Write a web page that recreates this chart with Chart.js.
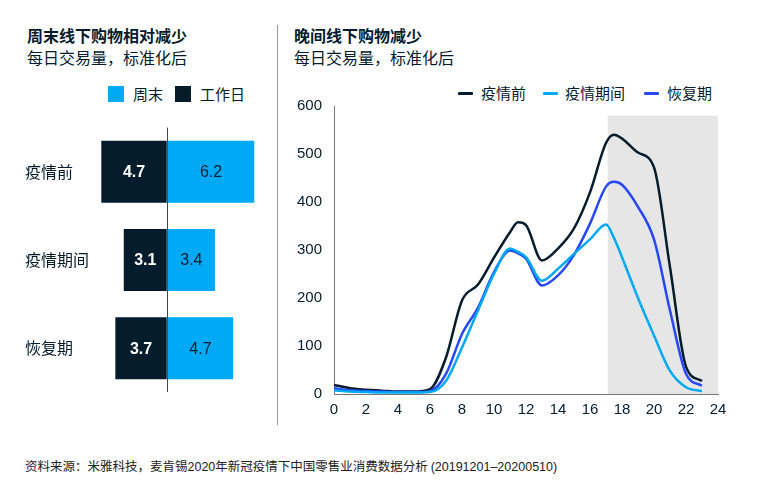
<!DOCTYPE html>
<html>
<head>
<meta charset="utf-8">
<script src="https://cdn.jsdelivr.net/npm/chart.js@4.4.0/dist/chart.umd.min.js"></script>
<style>
body { margin: 0; width: 759px; height: 492px; background: #fff; position: relative; overflow: hidden;
       font-family: "Noto Sans CJK SC", sans-serif; color: #051c2c; }
.t { position: absolute; white-space: nowrap; line-height: 20px; }
.title { font-size: 16px; font-weight: bold; }
.sub { font-size: 16px; }
.leg { position: absolute; font-size: 15px; line-height: 18px; white-space: nowrap; }
.sq { position: absolute; width: 16px; height: 16px; }
.ln { position: absolute; width: 15px; height: 3px; border-radius: 1px; }
#sep { position: absolute; left: 277px; top: 25px; width: 1px; height: 400px; background: #9a9a9a; }
#left { position: absolute; left: 0; top: 118px; }
#right { position: absolute; left: 280px; top: 85px; }
#foot { position: absolute; left: 25px; top: 456px; font-size: 12.5px; white-space: nowrap; color: #222; }
#foot span { font-family: "Liberation Sans", Arial, sans-serif; }
</style>
</head>
<body>

<div class="t title" style="left:27px;top:25px">周末线下购物相对减少</div>
<div class="t sub" style="left:27px;top:47px">每日交易量，标准化后</div>
<div class="t title" style="left:294px;top:25px">晚间线下购物减少</div>
<div class="t sub" style="left:294px;top:47px">每日交易量，标准化后</div>
<div id="sep"></div>
<div id="legLeft"></div>
<div id="legRight"></div>

<canvas id="left" width="276" height="284"></canvas>
<canvas id="right" width="470" height="348"></canvas>

<div id="foot">资料来源：米雅科技，麦肯锡<span>2020</span>年新冠疫情下中国零售业消费数据分析 <span>(20191201–20200510)</span></div>

<script>
// ----- データ -----
const periods = ['疫情前', '疫情期间', '恢复期'];
const weekendVals = [6.2, 3.4, 4.7];
const workdayVals = [4.7, 3.1, 3.7];

const hours = [0, 1, 2, 3, 4, 5, 6, 7, 8, 9, 10, 11, 11.5, 12, 13, 14, 15, 16, 17, 17.5, 18, 19, 20, 21, 22, 23];
const beforeVals   = [19, 12, 9, 7, 5, 5, 10, 76, 195, 228, 284, 337, 358, 352, 278, 303, 345, 420, 523, 540, 532, 503, 472, 264, 57, 27];
const duringVals   = [8, 5, 4, 3, 3, 3, 4, 27, 97, 174, 250, 303, 296, 285, 236, 261, 292, 322, 353, 325, 285, 200, 122, 48, 14, 6];
const recoveryVals = [12, 8, 6, 5, 4, 4, 6, 42, 125, 180, 254, 299, 293, 282, 226, 247, 290, 355, 432, 442, 436, 390, 322, 174, 42, 17];

const xTicks = [0, 2, 4, 6, 8, 10, 12, 14, 16, 18, 20, 22, 24];
const yTicks = [0, 100, 200, 300, 400, 500, 600];

const NAVY = '#051c2c';
const CYAN = '#00a9f4';
const BLUE = '#2848f5';
const numFont = '"Liberation Sans", Arial, sans-serif';
const cjkFont = '"Noto Sans CJK SC", sans-serif';

// 夜間の網掛け範囲
const shade = { from: 17.1, to: 24, top: 580 };

// ----- 凡例 (HTML) -----
const legLeft = document.getElementById('legLeft');
[['周末', CYAN, 108, 133], ['工作日', NAVY, 175, 200]].forEach(([name, color, sx, tx]) => {
    legLeft.insertAdjacentHTML('beforeend',
        `<div class="sq" style="left:${sx}px;top:86px;background:${color}"></div>` +
        `<div class="leg" style="left:${tx}px;top:85px">${name}</div>`);
});

const legRight = document.getElementById('legRight');
[['疫情前', NAVY, 458, 481], ['疫情期间', CYAN, 543, 565], ['恢复期', BLUE, 644, 667]].forEach(([name, color, sx, tx]) => {
    legRight.insertAdjacentHTML('beforeend',
        `<div class="ln" style="left:${sx}px;top:92px;background:${color}"></div>` +
        `<div class="leg" style="left:${tx}px;top:84px">${name}</div>`);
});

// ----- 棒グラフの数値ラベル -----
const barLabels = {
    id: 'barLabels',
    afterDatasetsDraw(chart) {
        const ctx = chart.ctx;
        chart.data.datasets.forEach((ds, i) => {
            chart.getDatasetMeta(i).data.forEach((bar, j) => {
                ctx.save();
                ctx.font = ds.labelWeight + ' 16px ' + numFont;
                ctx.fillStyle = ds.labelColor;
                ctx.textAlign = 'center';
                ctx.textBaseline = 'middle';
                ctx.fillText(Math.abs(ds.data[j]).toFixed(1), (bar.x + bar.base) / 2, bar.y + 1);
                ctx.restore();
            });
        });
    }
};

new Chart(document.getElementById('left'), {
    type: 'bar',
    data: {
        labels: periods,
        datasets: [
            { label: '工作日', data: workdayVals.map(v => -v), backgroundColor: NAVY, labelColor: '#fff', labelWeight: 'bold' },
            { label: '周末', data: weekendVals, backgroundColor: CYAN, labelColor: NAVY, labelWeight: 'normal' }
        ]
    },
    options: {
        indexAxis: 'y',
        responsive: false,
        animation: false,
        layout: { padding: { left: 25, top: 5, right: 0, bottom: 2 } },
        datasets: { bar: { barPercentage: 0.7, categoryPercentage: 1 } },
        plugins: { legend: { display: false }, tooltip: { enabled: false } },
        scales: {
            x: {
                stacked: true, min: -5.15, max: 7.75,
                ticks: { display: false, stepSize: 1 },
                grid: { drawTicks: false, color: c => c.tick && c.tick.value === 0 ? '#444' : 'transparent', lineWidth: 1 },
                border: { display: false }
            },
            y: {
                stacked: true,
                ticks: { crossAlign: 'far', padding: 0, color: NAVY, font: { size: 16, family: cjkFont } },
                grid: { display: false, drawTicks: false },
                border: { display: false },
                afterFit(s) { s.width = 70; }
            }
        }
    },
    plugins: [barLabels]
});

// ----- 折れ線グラフ -----
const shadePlugin = {
    id: 'shade',
    beforeDatasetsDraw(chart) {
        const { ctx, scales: { x, y } } = chart;
        ctx.save();
        ctx.fillStyle = '#e6e6e6';
        const x0 = x.getPixelForValue(shade.from), x1 = x.getPixelForValue(shade.to);
        const y0 = y.getPixelForValue(shade.top), y1 = y.getPixelForValue(0);
        ctx.fillRect(x0, y0, x1 - x0, y1 - y0);
        ctx.restore();
    }
};

const toPoints = vals => hours.map((h, i) => ({ x: h, y: vals[i] }));

new Chart(document.getElementById('right'), {
    type: 'line',
    data: {
        datasets: [
            { label: '疫情期间', data: toPoints(duringVals), borderColor: CYAN },
            { label: '恢复期', data: toPoints(recoveryVals), borderColor: BLUE },
            { label: '疫情前', data: toPoints(beforeVals), borderColor: NAVY }
        ]
    },
    options: {
        responsive: false,
        animation: false,
        layout: { padding: { left: 0, top: 11, right: 32, bottom: 7 } },
        elements: {
            line: { borderWidth: 2.5, cubicInterpolationMode: 'monotone', fill: false },
            point: { radius: 0 }
        },
        plugins: { legend: { display: false }, tooltip: { enabled: false } },
        scales: {
            x: {
                type: 'linear', min: 0, max: 24,
                afterBuildTicks(s) { s.ticks = xTicks.map(v => ({ value: v })); },
                ticks: { padding: 7, color: NAVY, font: { size: 15, family: numFont }, maxRotation: 0 },
                grid: { display: false, drawTicks: false },
                border: { color: '#777', width: 1 }
            },
            y: {
                min: 0, max: 600,
                afterBuildTicks(s) { s.ticks = yTicks.map(v => ({ value: v })); },
                ticks: { padding: 12, color: NAVY, font: { size: 15, family: numFont } },
                grid: { display: false, drawTicks: false },
                border: { color: '#777', width: 1 },
                afterFit(s) { s.width = 54; }
            }
        }
    },
    plugins: [shadePlugin]
});
</script>
</body>
</html>
